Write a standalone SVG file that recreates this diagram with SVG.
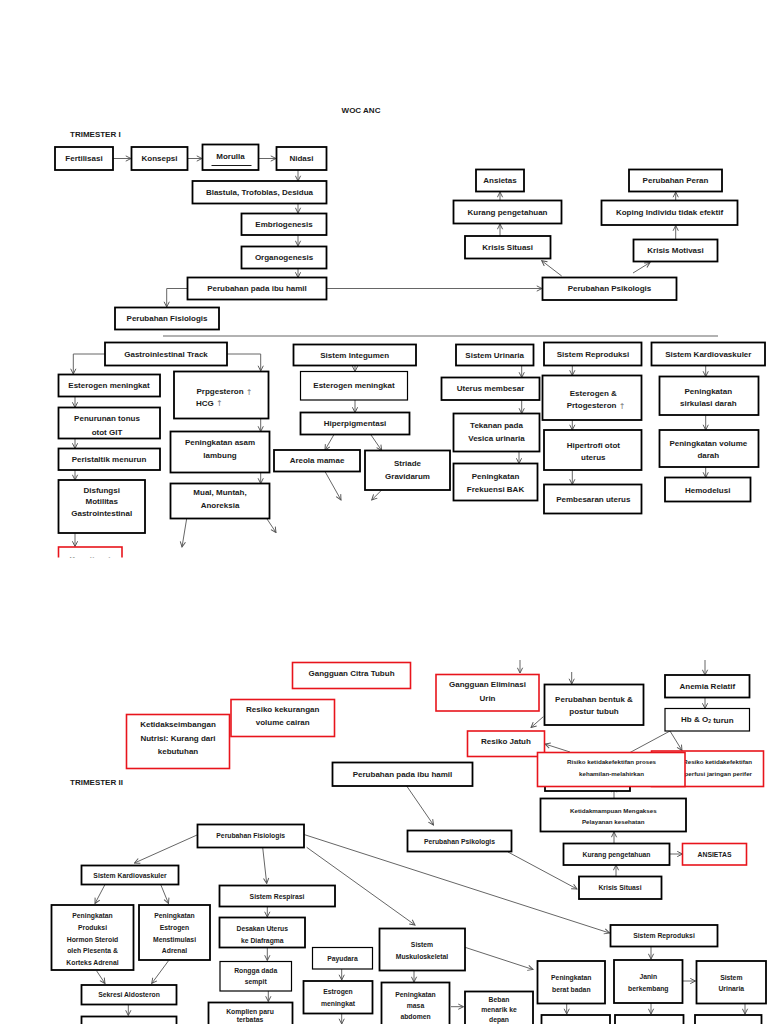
<svg xmlns="http://www.w3.org/2000/svg" width="768" height="1024" viewBox="0 0 768 1024">
<style>
.b{fill:#fff;stroke:#000;stroke-width:1.8}
.bt{fill:#fff;stroke:#000;stroke-width:1.2}
.r{fill:#fff;stroke:#e8141c;stroke-width:1.6}
text{font-family:"Liberation Sans",Arial,sans-serif;font-weight:bold;font-size:8px;fill:#1a1a1a;text-anchor:middle;dominant-baseline:central}
.s{font-size:6.8px}
.xs{font-size:6.2px}
.l{text-anchor:start}
.h{font-size:8px}
.up{fill:#777;font-size:8px;font-family:"DejaVu Sans",sans-serif;font-weight:normal}
.c path,.c line{fill:none;stroke:#666;stroke-width:1;marker-end:url(#a)}
.c .n{marker-end:none}
</style>
<defs>
<marker id="a" viewBox="0 0 8 8" refX="7" refY="4" markerWidth="7" markerHeight="7" markerUnits="userSpaceOnUse" orient="auto"><path d="M1,1 L7,4 L1,7" fill="none" stroke="#555" stroke-width="1.1"/></marker>
<clipPath id="pg1"><rect x="0" y="0" width="768" height="557.5"/></clipPath>
</defs>
<rect width="768" height="1024" fill="#fff"/>

<text x="361" y="110" class="h">WOC ANC</text>
<text x="70" y="134" class="l">TRIMESTER I</text>
<line x1="163" y1="336" x2="718" y2="336" stroke="#999" stroke-width="1.5"/>

<!-- connectors -->
<g id="connectors" class="c">
<line x1="113" y1="158.5" x2="131" y2="158.5"/>
<line x1="187.5" y1="158.5" x2="202" y2="158.5"/>
<line x1="258.5" y1="158.5" x2="276" y2="158.5"/>
<line x1="298" y1="170" x2="298" y2="181"/>
<line x1="298" y1="203.5" x2="298" y2="213"/>
<line x1="298" y1="235" x2="298" y2="246"/>
<line x1="298" y1="268.5" x2="298" y2="277.5"/>
<path d="M187.5,288.5 H166.7 V307"/>
<path d="M326.5,288.5 H542"/>
<line x1="500" y1="236" x2="500" y2="224"/>
<line x1="500" y1="200.5" x2="500" y2="192"/>
<line x1="561.7" y1="276" x2="541.7" y2="260.7"/>
<line x1="633" y1="273" x2="650" y2="262.5"/>
<line x1="675.7" y1="239.5" x2="675.7" y2="225.5"/>
<line x1="675.7" y1="200.5" x2="675.7" y2="192"/>

<path d="M105,354 H73.3 V374"/>
<path d="M227,354 H260.7 V371"/>
<line x1="75" y1="396.7" x2="75" y2="407.5"/>
<line x1="75" y1="438.5" x2="75" y2="448.5"/>
<line x1="75" y1="470" x2="75" y2="480"/>
<line x1="75" y1="533.3" x2="75" y2="546.5"/>
<line x1="260.7" y1="418.5" x2="260.7" y2="431.5"/>
<line x1="260.7" y1="472.7" x2="260.7" y2="483.5"/>
<line x1="186.7" y1="518.5" x2="182" y2="547"/>
<line x1="266.7" y1="518.5" x2="276" y2="532.5"/>
<line x1="355" y1="365.5" x2="355" y2="371.5"/>
<line x1="355" y1="400" x2="355" y2="412.5"/>
<line x1="334" y1="434.5" x2="325" y2="450"/>
<line x1="370.7" y1="434.5" x2="381.7" y2="450.5"/>
<line x1="325" y1="471.5" x2="341" y2="500"/>
<line x1="381.7" y1="490" x2="371.7" y2="500"/>
<line x1="521.7" y1="365.5" x2="521.7" y2="377.5"/>
<line x1="521.7" y1="400" x2="521.7" y2="413.5"/>
<line x1="519" y1="451.5" x2="519" y2="463.5"/>
<line x1="572.3" y1="365.5" x2="572.3" y2="375.5"/>
<line x1="572.3" y1="420" x2="572.3" y2="430"/>
<line x1="572.3" y1="470" x2="572.3" y2="484.5"/>
<line x1="705.7" y1="365.5" x2="705.7" y2="376.5"/>
<line x1="705.7" y1="415" x2="705.7" y2="430"/>
<line x1="705.7" y1="467" x2="705.7" y2="477.5"/>

<!-- page 2 -->
<line x1="520" y1="660" x2="520" y2="673"/>
<line x1="571.7" y1="672" x2="571.7" y2="684"/>
<line x1="705" y1="660" x2="705" y2="675"/>
<line x1="705" y1="697.5" x2="705" y2="708.5"/>
<line x1="543.3" y1="716.7" x2="531" y2="727.5"/>
<line class="n" x1="670" y1="731" x2="630" y2="752.5"/>
<line x1="670" y1="731" x2="682" y2="750.5"/>
<line x1="570" y1="752" x2="545" y2="744"/>
<line x1="614" y1="798.5" x2="614" y2="787"/>
<line x1="614" y1="843.5" x2="614" y2="832"/>
<line x1="616" y1="876.5" x2="616" y2="865"/>
<line x1="670" y1="854" x2="682.5" y2="854"/>
<line x1="406.7" y1="786" x2="433.5" y2="825"/>
<line x1="508" y1="852" x2="577" y2="889"/>
<line x1="197" y1="835" x2="134.5" y2="863"/>
<line x1="262.7" y1="847.5" x2="266.7" y2="883.5"/>
<line x1="304" y1="834.5" x2="609.5" y2="933"/>
<line x1="306.7" y1="847.3" x2="415" y2="925"/>
<line x1="105" y1="884.5" x2="95" y2="903.5"/>
<line x1="160.7" y1="884.5" x2="168.5" y2="903.5"/>
<line x1="96.7" y1="971" x2="105" y2="983.5"/>
<line x1="168.3" y1="961" x2="151.7" y2="983.5"/>
<line x1="128.3" y1="1004.5" x2="128.3" y2="1015.5"/>
<line x1="267.3" y1="906.5" x2="267.3" y2="917"/>
<line x1="267.3" y1="947.5" x2="267.3" y2="960.5"/>
<line x1="268.3" y1="991" x2="268.3" y2="1001.5"/>
<line x1="341.7" y1="969" x2="341.7" y2="980"/>
<line x1="341.7" y1="1013.5" x2="341.7" y2="1024"/>
<line x1="465" y1="947.3" x2="533" y2="969.5"/>
<line x1="414" y1="970.5" x2="414" y2="982"/>
<line x1="451" y1="1006.7" x2="463.5" y2="1006.7"/>
<line x1="651" y1="946.5" x2="651" y2="959"/>
<line x1="683" y1="981" x2="695.5" y2="981"/>
<line x1="566.7" y1="1003.5" x2="566.7" y2="1014"/>
<line x1="651" y1="1003" x2="651" y2="1014"/>
<line x1="745" y1="1003.5" x2="745" y2="1014"/>
</g>

<!-- page 1 nodes -->
<g id="fertilisasi"><rect class="b" x="55" y="147" width="58" height="23"/><text x="84" y="158.5">Fertilisasi</text></g>
<g id="konsepsi"><rect class="b" x="131.5" y="147" width="56" height="23"/><text x="159.5" y="158.5">Konsepsi</text></g>
<g id="morulla"><rect class="b" x="202.5" y="144.5" width="56" height="25.5"/><text x="230.5" y="156.5">Morulla</text><line x1="211.5" y1="165.5" x2="251.5" y2="165.5" stroke="#000" stroke-width="0.9"/></g>
<g id="nidasi"><rect class="b" x="276.5" y="147" width="50" height="23"/><text x="301.5" y="158.5">Nidasi</text></g>
<g id="blastula"><rect class="b" x="192.5" y="181" width="134" height="22.5"/><text x="259.5" y="192.2">Blastula, Trofoblas, Desidua</text></g>
<g id="embriogenesis"><rect class="b" x="241.5" y="213.5" width="85" height="21.5"/><text x="284" y="224.2">Embriogenesis</text></g>
<g id="organogenesis"><rect class="b" x="241.5" y="246.5" width="85" height="22"/><text x="284" y="257.5">Organogenesis</text></g>
<g id="ibuhamil1"><rect class="b" x="187.5" y="277.5" width="139" height="22"/><text x="257" y="288.5">Perubahan pada ibu hamil</text></g>
<g id="fisiologis1"><rect class="b" x="115" y="307.5" width="104" height="22"/><text x="167" y="318.5">Perubahan Fisiologis</text></g>
<g id="ansietas1"><rect class="b" x="476" y="169.5" width="48" height="22"/><text x="500" y="180.5">Ansietas</text></g>
<g id="kurang1"><rect class="b" x="453.5" y="200.5" width="108" height="23"/><text x="507.5" y="212">Kurang pengetahuan</text></g>
<g id="krisis1"><rect class="b" x="465" y="236" width="85.5" height="22.5"/><text x="507.7" y="247.2">Krisis Situasi</text></g>
<g id="psikologis1"><rect class="b" x="542.5" y="277.5" width="134" height="22.5"/><text x="609.5" y="288.7">Perubahan Psikologis</text></g>
<g id="peran"><rect class="b" x="629" y="169.5" width="93" height="22"/><text x="675.5" y="180.5">Perubahan Peran</text></g>
<g id="koping"><rect class="b" x="601.5" y="200.5" width="136" height="24.5"/><text x="669.5" y="212.7">Koping Individu tidak efektif</text></g>
<g id="motivasi"><rect class="b" x="633.5" y="239.5" width="84" height="22"/><text x="675.5" y="250.5">Krisis Motivasi</text></g>

<g id="gastro"><rect class="b" x="105" y="342.5" width="122" height="23"/><text x="166" y="354">Gastroinlestinal Track</text></g>
<g id="esterogen1"><rect class="b" x="58.5" y="374.5" width="101.5" height="22"/><text x="109" y="385.5">Esterogen meningkat</text></g>
<g id="tonus"><rect class="b" x="58.5" y="407.5" width="101.5" height="31"/><text x="107" y="418.3">Penurunan tonus</text><text x="107" y="432.5">otot GIT</text></g>
<g id="peristaltik"><rect class="b" x="58.5" y="448.5" width="101.5" height="21.5"/><text x="109" y="459.2">Peristaltik menurun</text></g>
<g id="disfungsi"><rect class="b" x="58.5" y="480" width="86.5" height="53"/><text x="101.7" y="490">Disfungsi</text><text x="101.7" y="501.7">Motilitas</text><text x="101.7" y="513.3">Gastrointestinal</text></g>
<g id="konstipasi" clip-path="url(#pg1)"><rect class="r" x="58.5" y="547" width="63.5" height="22"/><text x="90" y="559.5">Konstipasi</text></g>
<g id="progesteron"><rect class="b" x="174" y="371.5" width="94.5" height="47"/><text class="l" x="196.5" y="391.7">Prpgesteron <tspan class="up">↑</tspan></text><text class="l" x="196" y="403.3">HCG <tspan class="up">↑</tspan></text></g>
<g id="asam"><rect class="b" x="170.5" y="431.5" width="99" height="41"/><text x="220" y="442.3">Peningkatan asam</text><text x="220" y="455.7">lambung</text></g>
<g id="mual"><rect class="b" x="170.5" y="483.5" width="99" height="35"/><text x="220" y="492.7">Mual, Muntah,</text><text x="220" y="505">Anoreksia</text></g>

<g id="integumen"><rect class="b" x="293.5" y="344.5" width="122.5" height="21"/><text x="354.7" y="355">Sistem Integumen</text></g>
<g id="esterogen2"><rect class="bt" x="300.5" y="371.5" width="107" height="28.5"/><text x="354" y="385.7">Esterogen meningkat</text></g>
<g id="hiperpigmentasi"><rect class="b" x="300.5" y="412.5" width="109" height="22"/><text x="355" y="423.5">Hiperpigmentasi</text></g>
<g id="areola"><rect class="b" x="274" y="450" width="86" height="21.5"/><text x="317" y="460.7">Areola mamae</text></g>
<g id="striade"><rect class="b" x="365" y="450.5" width="85" height="39.5"/><text x="407.5" y="463.3">Striade</text><text x="407.5" y="476">Gravidarum</text></g>
<g id="urinaria1"><rect class="b" x="456" y="344.5" width="77.5" height="21"/><text x="494.7" y="355">Sistem Urinaria</text></g>
<g id="uterus"><rect class="b" x="441.5" y="377.5" width="98" height="22.5"/><text x="490.5" y="388.7">Uterus membesar</text></g>
<g id="tekanan"><rect class="b" x="453.5" y="413.5" width="86" height="38"/><text x="496.5" y="425.7">Tekanan pada</text><text x="496.5" y="438.3">Vesica urinaria</text></g>
<g id="bak"><rect class="b" x="453.5" y="463.5" width="84" height="37"/><text x="495.5" y="476.7">Peningkatan</text><text x="495.5" y="489">Frekuensi BAK</text></g>
<g id="reproduksi1"><rect class="b" x="544" y="342.5" width="97.5" height="23"/><text x="593" y="354">Sistem Reproduksi</text></g>
<g id="estprog"><rect class="b" x="542.5" y="375.5" width="99" height="44.5"/><text x="593.3" y="393.3">Esterogen &amp;</text><text x="596" y="405.7">Prtogesteron <tspan class="up">↑</tspan></text></g>
<g id="hipertrofi"><rect class="b" x="544" y="430" width="97.5" height="40"/><text x="593.3" y="445">Hipertrofi otot</text><text x="593.3" y="457.3">uterus</text></g>
<g id="pembesaran"><rect class="b" x="544" y="484.5" width="97.5" height="29"/><text x="593.3" y="499.3">Pembesaran uterus</text></g>
<g id="kardio1"><rect class="b" x="651.5" y="342.5" width="113.5" height="23"/><text x="708.3" y="354">Sistem Kardiovaskuler</text></g>
<g id="sirkulasi"><rect class="b" x="659.5" y="376.5" width="99" height="38.5"/><text x="708.3" y="391.7">Peningkatan</text><text x="708.3" y="403.3">sirkulasi darah</text></g>
<g id="volume"><rect class="b" x="659.5" y="430" width="99" height="37"/><text x="708.3" y="443.3">Peningkatan volume</text><text x="708.3" y="455">darah</text></g>
<g id="hemodelusi"><rect class="b" x="665" y="477.5" width="85.5" height="24"/><text x="707.7" y="490">Hemodelusi</text></g>

<!-- page 2 nodes -->
<g id="citra"><rect class="r" x="292.5" y="662.5" width="118" height="26"/><text x="351.5" y="673">Gangguan Citra Tubuh</text></g>
<g id="cairan"><rect class="r" x="231" y="699.5" width="103.5" height="37"/><text x="282.7" y="709">Resiko kekurangan</text><text x="282.7" y="722.3">volume cairan</text></g>
<g id="nutrisi"><rect class="r" x="126.5" y="714.5" width="103" height="54"/><text x="178" y="724">Ketidakseimbangan</text><text x="178" y="738.3">Nutrisi: Kurang dari</text><text x="178" y="751.7">kebutuhan</text></g>
<text x="70" y="782.5" class="l">TRIMESTER II</text>
<g id="ibuhamil2"><rect class="b" x="332.5" y="762.5" width="140" height="23.5"/><text x="402.5" y="774">Perubahan pada ibu hamil</text></g>
<g id="eliminasi"><rect class="r" x="436" y="674.5" width="103" height="36.5"/><text x="487.5" y="684.3">Gangguan Eliminasi</text><text x="487.5" y="698.3">Urin</text></g>
<g id="postur"><rect class="b" x="544.5" y="684.5" width="99" height="40.5"/><text x="594" y="699.3">Perubahan bentuk &amp;</text><text x="594" y="711.7">postur tubuh</text></g>
<g id="jatuh"><rect class="r" x="467.5" y="731" width="77" height="25.5"/><text x="506" y="741">Resiko Jatuh</text></g>
<g id="anemia"><rect class="b" x="665" y="675" width="84.5" height="22.5"/><text x="707.3" y="686.3">Anemia Relatif</text></g>
<g id="hb"><rect class="bt" x="665" y="708.5" width="84.5" height="22.5"/><text x="707.3" y="719.7">Hb &amp; O<tspan font-size="5" dy="1.5">2</tspan><tspan dy="-1.5"> turun</tspan></text></g>
<g id="perfusi"><rect class="r" x="651.5" y="751" width="112" height="35.5"/><text class="xs" x="752" y="761.5" style="text-anchor:end">Resiko ketidakefektifan</text><text class="xs" x="752" y="773.3" style="text-anchor:end">perfusi jaringan perifer</text></g>
<g id="hidden"><rect class="b" x="545" y="760" width="85" height="31"/></g>
<g id="proses"><rect class="r" x="537.5" y="752.5" width="147.5" height="34"/><text class="xs" x="611.5" y="761.7">Risiko ketidakefektifan proses</text><text class="xs" x="611.5" y="773.3">kehamilan-melahirkan</text></g>
<g id="akses"><rect class="b" x="540.5" y="798.5" width="145.5" height="33"/><text class="xs" x="613.3" y="810">Ketidakmampuan Mengakses</text><text class="xs" x="613.3" y="821.7">Pelayanan kesehatan</text></g>
<g id="kurang2"><rect class="b" x="563.5" y="843.5" width="106" height="21.5"/><text class="s" x="616.5" y="854">Kurang pengetahuan</text></g>
<g id="ansietas2"><rect class="r" x="682.5" y="843.5" width="64" height="21.5"/><text class="s" x="714.5" y="854">ANSIETAS</text></g>
<g id="psikologis2"><rect class="b" x="407.5" y="830.5" width="104" height="21"/><text class="s" x="459.5" y="841">Perubahan Psikologis</text></g>
<g id="krisis2"><rect class="b" x="579" y="876.5" width="82.5" height="22.5"/><text class="s" x="620" y="887.7">Krisis Situasi</text></g>
<g id="fisiologis2"><rect class="b" x="197.5" y="824.5" width="106.5" height="23"/><text class="s" x="250.7" y="835.7">Perubahan Fisiologis</text></g>
<g id="kardio2"><rect class="b" x="81.5" y="865.5" width="97" height="19"/><text class="s" x="130" y="875">Sistem Kardiovaskuler</text></g>
<g id="respirasi"><rect class="b" x="219.5" y="885.5" width="115.5" height="21"/><text class="s" x="277" y="896">Sistem Respirasi</text></g>
<g id="hormon"><rect class="b" x="51.5" y="905" width="82" height="65"/><text class="s" x="92.5" y="915">Peningkatan</text><text class="s" x="92.5" y="927">Produksi</text><text class="s" x="92.5" y="939">Hormon Steroid</text><text class="s" x="92.5" y="950.5">oleh Plesenta &amp;</text><text class="s" x="92.5" y="962">Korteks Adrenal</text></g>
<g id="adrenal"><rect class="b" x="139" y="905" width="71" height="55"/><text class="s" x="174.5" y="915">Peningkatan</text><text class="s" x="174.5" y="927">Estrogen</text><text class="s" x="174.5" y="939">Menstimulasi</text><text class="s" x="174.5" y="950.5">Adrenal</text></g>
<g id="aldosteron"><rect class="b" x="81.5" y="985" width="95" height="19.5"/><text class="s" x="129" y="994.7">Sekresi Aldosteron</text></g>
<g id="aldo-next"><rect class="b" x="81.5" y="1016.5" width="95" height="20"/></g>
<g id="desakan"><rect class="b" x="219.5" y="917.5" width="85.5" height="30"/><text class="s" x="262.3" y="928.3">Desakan Uterus</text><text class="s" x="262.3" y="940">ke Diafragma</text></g>
<g id="rongga"><rect class="bt" x="220" y="961.5" width="71.5" height="29.5"/><text class="s" x="255.7" y="970">Rongga dada</text><text class="s" x="255.7" y="981.7">sempit</text></g>
<g id="komplien"><rect class="b" x="208.5" y="1002.5" width="84" height="30"/><text class="s" x="250" y="1011.5">Komplien paru</text><text class="s" x="250" y="1019.8">terbatas</text></g>
<g id="payudara"><rect class="bt" x="312.5" y="947.5" width="60" height="21.5"/><text class="s" x="342.5" y="958.2">Payudara</text></g>
<g id="estrogen3"><rect class="b" x="303.5" y="981" width="69" height="32.5"/><text class="s" x="338" y="991.7">Estrogen</text><text class="s" x="338" y="1003.3">meningkat</text></g>
<g id="musku"><rect class="b" x="379.5" y="928.5" width="85.5" height="42"/><text class="s" x="422" y="944">Sistem</text><text class="s" x="422" y="956">Muskuloskeletal</text></g>
<g id="abdomen"><rect class="b" x="381.5" y="982.5" width="68" height="50"/><text class="s" x="415.5" y="994">Peningkatan</text><text class="s" x="415.5" y="1005.5">masa</text><text class="s" x="415.5" y="1016">abdomen</text></g>
<g id="beban"><rect class="b" x="465" y="991.5" width="68" height="40"/><text class="s" x="499" y="999.5">Beban</text><text class="s" x="499" y="1009.5">menarik ke</text><text class="s" x="499" y="1019.3">depan</text></g>
<g id="reproduksi2"><rect class="b" x="610.5" y="925" width="107" height="21.5"/><text class="s" x="664" y="935.8">Sistem Reproduksi</text></g>
<g id="berat"><rect class="b" x="537.5" y="961" width="67.5" height="42.5"/><text class="s" x="571.3" y="977.3">Peningkatan</text><text class="s" x="571.3" y="989.3">berat badan</text></g>
<g id="janin"><rect class="b" x="614" y="960" width="68.5" height="43"/><text class="s" x="648.3" y="976.7">Janin</text><text class="s" x="648.3" y="988.3">berkembang</text></g>
<g id="urinaria2"><rect class="b" x="696.5" y="961" width="69.5" height="42.5"/><text class="s" x="731.3" y="977.3">Sistem</text><text class="s" x="731.3" y="988.3">Urinaria</text></g>
<g id="cut1"><rect class="b" x="541.5" y="1015" width="68.5" height="20"/></g>
<g id="cut2"><rect class="b" x="615" y="1015" width="68.5" height="20"/></g>
<g id="cut3"><rect class="b" x="695" y="1015" width="66.5" height="20"/></g>
</svg>
